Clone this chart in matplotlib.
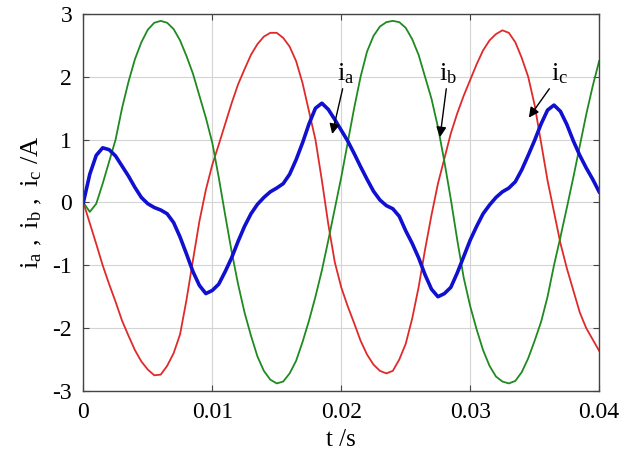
import numpy as np
import matplotlib
matplotlib.use("Agg")
import matplotlib.pyplot as plt

plt.rcParams['font.family'] = ['Liberation Serif', 'DejaVu Serif']
plt.rcParams['mathtext.fontset'] = 'custom'
plt.rcParams['mathtext.rm'] = 'Liberation Serif'
plt.rcParams['mathtext.it'] = 'Liberation Serif'
plt.rcParams['axes.unicode_minus'] = False

# time samples (s)
t = [i * 0.0005 for i in range(81)]

ia = [0.00, 0.45, 0.75, 0.87, 0.84, 0.74, 0.58, 0.42, 0.24, 0.08,
      -0.02, -0.08, -0.12, -0.18, -0.32, -0.55, -0.82, -1.10, -1.32, -1.45,
      -1.40, -1.30, -1.10, -0.88, -0.62, -0.38, -0.18, -0.03, 0.08, 0.17,
      0.23, 0.30, 0.45, 0.68, 0.95, 1.25, 1.50, 1.58, 1.48, 1.32,
      1.15, 0.98, 0.78, 0.57, 0.37, 0.18, 0.04, -0.05, -0.10, -0.22,
      -0.45, -0.65, -0.88, -1.15, -1.38, -1.50, -1.45, -1.35, -1.12, -0.86,
      -0.60, -0.38, -0.18, -0.04, 0.08, 0.17, 0.23, 0.33, 0.52, 0.75,
      0.99, 1.25, 1.47, 1.55, 1.45, 1.24, 0.98, 0.75, 0.55, 0.37,
      0.17]

ib = [0.00, -0.33, -0.66, -1.00, -1.30, -1.58, -1.88, -2.12, -2.35, -2.53,
      -2.66, -2.75, -2.74, -2.60, -2.40, -2.10, -1.55, -0.92, -0.30, 0.20,
      0.60, 0.92, 1.25, 1.58, 1.88, 2.12, 2.35, 2.52, 2.64, 2.70,
      2.70, 2.62, 2.48, 2.25, 1.90, 1.45, 1.00, 0.35, -0.35, -0.95,
      -1.35, -1.65, -1.92, -2.20, -2.42, -2.58, -2.68, -2.72, -2.68, -2.50,
      -2.25, -1.85, -1.35, -0.75, -0.20, 0.30, 0.70, 1.10, 1.42, 1.70,
      1.95, 2.20, 2.42, 2.58, 2.68, 2.74, 2.70, 2.55, 2.30, 2.00,
      1.55, 0.95, 0.35, -0.15, -0.65, -1.05, -1.40, -1.75, -2.00, -2.18,
      -2.36]

ic = [0.00, -0.15, -0.02, 0.30, 0.65, 1.00, 1.50, 1.92, 2.28, 2.55,
      2.75, 2.86, 2.89, 2.86, 2.76, 2.58, 2.33, 2.05, 1.70, 1.35,
      0.95, 0.40, -0.20, -0.78, -1.30, -1.75, -2.12, -2.45, -2.68, -2.82,
      -2.88, -2.85, -2.72, -2.52, -2.22, -1.88, -1.50, -1.08, -0.60, -0.10,
      0.40, 0.95, 1.50, 2.00, 2.40, 2.65, 2.80, 2.87, 2.89, 2.87,
      2.78, 2.60, 2.35, 2.00, 1.65, 1.20, 0.65, 0.05, -0.60, -1.20,
      -1.65, -2.02, -2.35, -2.60, -2.77, -2.85, -2.88, -2.84, -2.70, -2.48,
      -2.20, -1.90, -1.50, -1.00, -0.55, -0.08, 0.40, 0.90, 1.40, 1.85,
      2.25]

xticks = [0, 0.01, 0.02, 0.03, 0.04]
xticklabels = ['0', '0.01', '0.02', '0.03', '0.04']
yticks = [-3, -2, -1, 0, 1, 2, 3]

fig = plt.figure(figsize=(6.29, 4.66), dpi=100)
ax = fig.add_axes([0.1325, 0.161, 0.820, 0.809])

ax.plot(t, ib, color='#e02a2a', lw=1.3, solid_joinstyle='round')
ax.plot(t, ic, color='#1f8a1f', lw=1.3, solid_joinstyle='round')
ax.plot(t, ia, color='#1010d0', lw=2.6, solid_joinstyle='round')

ax.set_xlim(0, 0.04)
ax.set_ylim(-3, 3)
ax.set_xticks(xticks)
ax.set_xticklabels(xticklabels)
ax.set_yticks(yticks)
ax.grid(True, color='#d4d4d4', lw=0.8)
ax.tick_params(direction='in', top=True, right=True, labelsize=17,
               length=4, width=0.8, color='#444444', pad=8)
for s in ax.spines.values():
    s.set_color('#444444')
    s.set_linewidth(1.0)

ax.set_xlabel('t /s', fontsize=18, labelpad=4)
ax.set_ylabel(r'$\mathrm{i_a\ ,\ i_b\ ,\ i_c\ /A}$', fontsize=19, labelpad=6)

arrow = dict(arrowstyle='-|>', color='black', lw=1.0, mutation_scale=15,
             shrinkA=0, shrinkB=0)
ax.annotate(r'$\mathrm{i_a}$', xy=(0.0193, 1.09), xytext=(0.0197, 2.05),
            fontsize=19, ha='left', va='center', arrowprops=arrow)
ax.annotate(r'$\mathrm{i_b}$', xy=(0.02766, 1.04), xytext=(0.0276, 2.05),
            fontsize=19, ha='left', va='center', arrowprops=arrow)
ax.annotate(r'$\mathrm{i_c}$', xy=(0.03455, 1.35), xytext=(0.0363, 2.05),
            fontsize=19, ha='left', va='center', arrowprops=arrow)

fig.savefig('out.png', dpi=100)
